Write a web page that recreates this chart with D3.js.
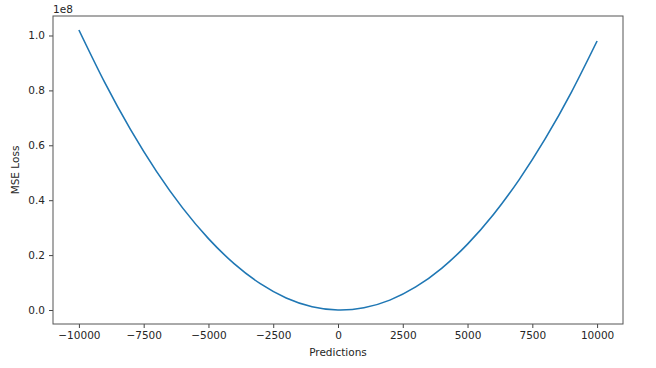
<!DOCTYPE html>
<html>
<head>
<meta charset="utf-8">
<script src="https://cdn.jsdelivr.net/npm/d3@7"></script>
<style>
  body { margin: 0; background: #fff; }
  text { font-family: "DejaVu Sans", sans-serif; fill: #262626; }
</style>
</head>
<body>
<div id="chart"></div>
<script>
// values
var predictions = [-10000, -9000, -8000, -7000, -6000, -5000, -4000, -3000, -2000, -1000, 0,
                   1000, 2000, 3000, 4000, 5000, 6000, 7000, 8000, 9000, 10000];
// loss, in millions
var lossMillions = [102.0, 82.8, 65.6, 50.4, 37.2, 26.0, 16.8, 9.6, 4.4, 1.2, 0.0,
                    0.8, 3.6, 8.4, 15.2, 24.0, 34.8, 47.6, 62.4, 79.2, 98.0];
var xTicks = [-10000, -7500, -5000, -2500, 0, 2500, 5000, 7500, 10000];
var yTicks = [0, 0.2e8, 0.4e8, 0.6e8, 0.8e8, 1.0e8];

var width = 656, height = 368;
var margin = { left: 53, right: 33, top: 16, bottom: 44 };

var data = predictions.map(function (p, i) {
    return { x: p, y: lossMillions[i] * 1e6 };
});

// matplotlib style 5% padding
function padded(ext) {
    var d = (ext[1] - ext[0]) * 0.05;
    return [ext[0] - d, ext[1] + d];
}

var x = d3.scaleLinear()
    .domain(padded(d3.extent(data, d => d.x)))
    .range([margin.left, width - margin.right]);
var y = d3.scaleLinear()
    .domain(padded(d3.extent(data, d => d.y)))
    .range([height - margin.bottom, margin.top]);

var svg = d3.select("#chart")
    .append("svg")
    .attr("width", width)
    .attr("height", height);

// line
var line = d3.line()
    .x(d => x(d.x))
    .y(d => y(d.y))
    .curve(d3.curveNatural);

svg.append("path")
    .datum(data)
    .attr("d", line)
    .attr("fill", "none")
    .attr("stroke", "#1f77b4")
    .attr("stroke-width", 1.6);

// axes
var xAxis = svg.append("g")
    .attr("transform", "translate(0," + (height - margin.bottom) + ")")
    .call(d3.axisBottom(x).tickValues(xTicks).tickSize(4).tickPadding(4)
        .tickFormat(d => d < 0 ? "\u2212" + Math.abs(d) : String(d)));

var yAxis = svg.append("g")
    .attr("transform", "translate(" + margin.left + ",0)")
    .call(d3.axisLeft(y).tickValues(yTicks).tickSize(4).tickPadding(4)
        .tickFormat(d => (d / 1e8).toFixed(1)));

[xAxis, yAxis].forEach(function (ax) {
    ax.select(".domain").remove();
    ax.selectAll(".tick line").attr("stroke", "#444");
    ax.selectAll(".tick text")
        .style("font-size", "10.5px")
        .style("font-family", "DejaVu Sans, sans-serif")
        .attr("fill", "#262626");
});

// frame
svg.append("rect")
    .attr("x", margin.left)
    .attr("y", margin.top)
    .attr("width", width - margin.left - margin.right)
    .attr("height", height - margin.top - margin.bottom)
    .attr("fill", "none")
    .attr("stroke", "#555")
    .attr("stroke-width", 1);

// offset text
svg.append("text")
    .attr("x", margin.left)
    .attr("y", 13)
    .style("font-size", "10.5px")
    .text("1e8");

// axis labels
svg.append("text")
    .attr("x", (margin.left + width - margin.right) / 2)
    .attr("y", 356)
    .attr("text-anchor", "middle")
    .style("font-size", "10.5px")
    .text("Predictions");

svg.append("text")
    .attr("transform", "translate(19," + ((margin.top + height - margin.bottom) / 2) + ") rotate(-90)")
    .attr("text-anchor", "middle")
    .style("font-size", "10.5px")
    .text("MSE Loss");
</script>
</body>
</html>
